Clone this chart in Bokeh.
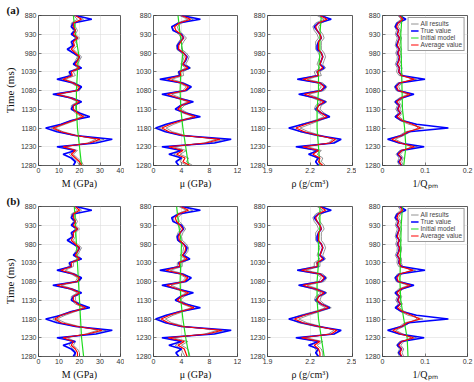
from bokeh.plotting import figure
from bokeh.layouts import column, row
from bokeh.models import Range1d, FixedTicker, Legend, LegendItem
from bokeh.embed import file_html
from bokeh.resources import INLINE

time_ms = [880, 890, 900, 910, 920, 930, 940, 950, 960, 970,
           980, 990, 1000, 1010, 1020, 1030, 1040, 1050, 1060, 1070,
           1080, 1090, 1100, 1110, 1120, 1130, 1140, 1150, 1160, 1170,
           1180, 1190, 1200, 1210, 1220, 1230, 1240, 1250, 1260, 1270,
           1280]
init_time_ms = [880, 930, 980, 1030, 1080, 1130, 1180, 1230, 1280]
y_ticks = [880, 930, 980, 1030, 1080, 1130, 1180, 1230, 1280]

# ---- M (GPa)
true_M = [18, 26, 17, 16, 18, 16, 19, 16, 17, 14,
          17, 20, 19, 17, 21, 15, 16, 9, 17, 21,
          19, 7, 16, 21, 17, 16, 20, 25, 16, 11,
          3.5, 9, 18, 36, 28, 9, 18, 12, 16, 18,
          17]
avg_M_a = [18, 21, 17, 17, 18, 17, 19, 17, 17.5, 16,
           18, 20, 19, 18, 20, 16, 16.5, 12, 17, 20,
           19, 9, 16, 20, 17, 17, 19, 22, 17, 12,
           7, 11, 18, 30, 25, 12, 18, 16, 18, 20,
           21]
gray_M_a1 = [19, 22, 18, 18, 19, 18, 20, 18, 19, 17,
             19, 21, 20, 19, 21, 17, 18, 13, 18, 21,
             20, 10, 17, 21, 18, 18, 20, 23, 18, 13,
             8, 12, 19, 28, 24, 13, 19, 17, 19, 21,
             22]
gray_M_a2 = [17, 19, 16, 16, 17, 16, 18, 16, 16, 15,
             17, 19, 18, 17, 19, 15, 15, 11, 16, 19,
             18, 8, 15, 19, 16, 16, 18, 21, 16, 11,
             6, 10, 17, 32, 26, 11, 17, 15, 17, 19,
             20]
avg_M_b = [18, 20, 17, 17, 18, 17, 19, 17, 17, 16,
           18, 20, 19, 18, 20, 16, 16, 11, 17, 20,
           19, 9, 16, 20, 17, 17, 19, 23, 17, 11,
           8, 11, 19, 31, 24, 12, 17, 16, 18, 19,
           19]
gray_M_b1 = [19, 21, 18, 18, 19, 18, 20, 18, 18, 17,
             19, 21, 20, 19, 21, 17, 17, 13, 18, 21,
             20, 11, 17, 21, 18, 18, 20, 24, 18, 13,
             9, 13, 20, 29, 23, 14, 18, 17, 19, 20,
             20]
gray_M_b2 = [17, 19, 16, 16, 17, 16, 18, 16, 16, 15,
             17, 19, 18, 17, 19, 15, 15, 10, 16, 19,
             18, 8, 15, 19, 16, 16, 18, 22, 16, 10,
             7, 10, 18, 33, 25, 11, 16, 15, 17, 18,
             18]
init_M_a = [17, 18, 19.5, 19, 18.5, 18.5, 19, 20, 21]
init_M_b = [17.5, 18, 18.5, 19, 19.5, 20, 20.5, 21, 22]

# ---- mu (GPa)
true_mu = [4.0, 6.7, 3.6, 2.6, 2.8, 4.0, 4.3, 3.8, 3.4, 3.5,
           4.3, 4.8, 4.6, 4.2, 5.2, 3.6, 3.8, 0.9, 4.1, 5.4,
           4.6, 1.2, 3.4, 5.7, 3.9, 3.1, 4.6, 6.7, 3.8, 1.8,
           0.3, 1.7, 4.0, 11.1, 8.7, 1.2, 4.0, 2.2, 4.0, 3.2,
           3.6]
avg_mu_a = [4.0, 5.3, 3.7, 3.0, 3.2, 3.9, 4.3, 3.9, 3.6, 3.6,
            4.3, 4.7, 4.5, 4.2, 4.9, 3.8, 3.9, 2.0, 4.0, 5.0,
            4.5, 2.0, 3.5, 5.2, 4.0, 3.5, 4.5, 6.0, 4.0, 2.4,
            1.2, 2.2, 4.2, 9.5, 7.5, 2.2, 4.2, 3.3, 4.5, 4.2,
            5.2]
gray_mu_a1 = [4.3, 5.7, 4.0, 3.4, 3.6, 4.2, 4.7, 4.3, 4.0, 4.0,
              4.7, 5.1, 4.9, 4.6, 5.3, 4.2, 4.3, 2.6, 4.4, 5.4,
              4.9, 2.6, 3.9, 5.6, 4.4, 3.9, 4.9, 6.4, 4.4, 2.9,
              1.8, 2.7, 4.6, 9.0, 7.2, 2.8, 4.7, 3.8, 5.0, 4.7,
              5.6]
gray_mu_a2 = [3.7, 4.9, 3.4, 2.7, 2.9, 3.6, 4.0, 3.6, 3.3, 3.3,
              4.0, 4.4, 4.2, 3.9, 4.6, 3.5, 3.6, 1.5, 3.7, 4.7,
              4.2, 1.5, 3.2, 4.9, 3.7, 3.2, 4.2, 5.7, 3.7, 2.0,
              0.8, 1.8, 3.9, 10.2, 8.0, 1.7, 3.8, 2.9, 4.1, 3.8,
              4.8]
avg_mu_b = [3.9, 5.0, 3.6, 3.1, 3.3, 3.8, 4.2, 3.8, 3.6, 3.7,
            4.3, 4.6, 4.5, 4.1, 4.8, 3.7, 3.7, 1.8, 4.0, 4.9,
            4.4, 1.9, 3.4, 5.0, 4.0, 3.4, 4.4, 5.8, 3.9, 2.3,
            1.1, 2.1, 4.1, 9.8, 7.7, 2.1, 4.4, 3.5, 4.4, 4.6,
            4.8]
gray_mu_b1 = [4.3, 5.6, 4.0, 3.5, 3.7, 4.2, 4.6, 4.2, 4.0, 4.1,
              4.7, 5.0, 4.9, 4.5, 5.2, 4.1, 4.1, 2.4, 4.4, 5.3,
              4.8, 2.5, 3.8, 5.4, 4.4, 3.8, 4.8, 6.3, 4.3, 2.8,
              1.7, 2.6, 4.5, 9.2, 7.3, 2.7, 4.9, 4.0, 4.9, 5.1,
              5.2]
gray_mu_b2 = [3.6, 4.7, 3.3, 2.8, 3.0, 3.5, 3.9, 3.5, 3.3, 3.4,
              4.0, 4.3, 4.2, 3.8, 4.5, 3.4, 3.4, 1.4, 3.7, 4.6,
              4.1, 1.4, 3.1, 4.7, 3.7, 3.1, 4.1, 5.5, 3.6, 1.9,
              0.7, 1.7, 3.8, 10.4, 8.1, 1.6, 4.0, 3.1, 4.0, 4.2,
              4.5]
init_mu_a = [3.5, 3.8, 4.2, 3.9, 3.8, 3.9, 4.2, 4.6, 5.0]
init_mu_b = [3.3, 3.6, 4.0, 3.9, 3.8, 3.9, 4.2, 4.6, 5.1]

# ---- rho (g/cm3)
true_rho = [2.27, 2.35, 2.26, 2.23, 2.25, 2.27, 2.28, 2.26, 2.25, 2.25,
            2.28, 2.29, 2.28, 2.27, 2.30, 2.25, 2.26, 2.11, 2.27, 2.31,
            2.28, 2.12, 2.24, 2.31, 2.26, 2.24, 2.28, 2.34, 2.25, 2.15,
            2.05, 2.14, 2.26, 2.42, 2.37, 2.10, 2.26, 2.19, 2.26, 2.24,
            2.26]
avg_rho_a = [2.27, 2.32, 2.26, 2.24, 2.25, 2.27, 2.28, 2.26, 2.26, 2.26,
             2.28, 2.29, 2.28, 2.27, 2.29, 2.25, 2.26, 2.15, 2.27, 2.30,
             2.28, 2.16, 2.24, 2.30, 2.26, 2.25, 2.28, 2.32, 2.25, 2.17,
             2.10, 2.16, 2.26, 2.38, 2.34, 2.15, 2.26, 2.22, 2.27, 2.26,
             2.29]
gray_rho_a1 = [2.29, 2.34, 2.28, 2.26, 2.27, 2.29, 2.30, 2.28, 2.28, 2.28,
               2.30, 2.31, 2.30, 2.29, 2.31, 2.27, 2.28, 2.18, 2.29, 2.32,
               2.30, 2.19, 2.26, 2.32, 2.28, 2.27, 2.30, 2.34, 2.27, 2.20,
               2.13, 2.19, 2.28, 2.36, 2.33, 2.18, 2.28, 2.25, 2.29, 2.28,
               2.31]
gray_rho_a2 = [2.25, 2.30, 2.24, 2.22, 2.23, 2.25, 2.26, 2.24, 2.24, 2.24,
               2.26, 2.27, 2.26, 2.25, 2.27, 2.23, 2.24, 2.12, 2.25, 2.28,
               2.26, 2.13, 2.22, 2.28, 2.24, 2.23, 2.26, 2.30, 2.23, 2.14,
               2.07, 2.13, 2.24, 2.40, 2.36, 2.12, 2.24, 2.20, 2.25, 2.24,
               2.27]
avg_rho_b = [2.27, 2.31, 2.26, 2.24, 2.25, 2.27, 2.28, 2.26, 2.26, 2.26,
             2.28, 2.29, 2.28, 2.27, 2.29, 2.25, 2.25, 2.14, 2.27, 2.30,
             2.28, 2.15, 2.24, 2.30, 2.26, 2.25, 2.28, 2.33, 2.25, 2.16,
             2.09, 2.15, 2.26, 2.39, 2.35, 2.14, 2.27, 2.23, 2.26, 2.27,
             2.27]
gray_rho_b1 = [2.29, 2.33, 2.28, 2.26, 2.27, 2.29, 2.30, 2.28, 2.28, 2.28,
               2.30, 2.31, 2.30, 2.29, 2.31, 2.27, 2.27, 2.17, 2.29, 2.32,
               2.30, 2.18, 2.26, 2.32, 2.28, 2.27, 2.30, 2.35, 2.27, 2.19,
               2.12, 2.18, 2.28, 2.37, 2.33, 2.17, 2.29, 2.25, 2.28, 2.29,
               2.29]
gray_rho_b2 = [2.25, 2.29, 2.24, 2.22, 2.23, 2.25, 2.26, 2.24, 2.24, 2.24,
               2.26, 2.27, 2.26, 2.25, 2.27, 2.23, 2.23, 2.11, 2.25, 2.28,
               2.26, 2.12, 2.22, 2.28, 2.24, 2.23, 2.26, 2.31, 2.23, 2.13,
               2.06, 2.12, 2.24, 2.41, 2.37, 2.11, 2.25, 2.21, 2.24, 2.25,
               2.25]
init_rho_a = [2.28, 2.27, 2.27, 2.26, 2.26, 2.25, 2.25, 2.26, 2.27]
init_rho_b = [2.27, 2.27, 2.26, 2.26, 2.25, 2.25, 2.26, 2.28, 2.30]

# ---- 1/Q_Pm
true_q = [0.040, 0.055, 0.035, 0.030, 0.038, 0.034, 0.040, 0.036, 0.033, 0.040,
          0.035, 0.040, 0.038, 0.034, 0.040, 0.038, 0.045, 0.100, 0.040, 0.030,
          0.036, 0.074, 0.045, 0.030, 0.040, 0.035, 0.042, 0.030, 0.045, 0.080,
          0.155, 0.062, 0.045, 0.012, 0.040, 0.098, 0.045, 0.035, 0.045, 0.038,
          0.045]
avg_q_a = [0.040, 0.048, 0.037, 0.033, 0.038, 0.035, 0.040, 0.037, 0.035, 0.040,
           0.036, 0.040, 0.039, 0.035, 0.040, 0.038, 0.044, 0.075, 0.040, 0.033,
           0.037, 0.065, 0.044, 0.033, 0.040, 0.036, 0.042, 0.034, 0.046, 0.070,
           0.090, 0.060, 0.045, 0.022, 0.042, 0.075, 0.045, 0.037, 0.044, 0.040,
           0.044]
gray_q_a1 = [0.045, 0.052, 0.042, 0.037, 0.043, 0.040, 0.045, 0.042, 0.040, 0.045,
             0.041, 0.045, 0.044, 0.040, 0.046, 0.043, 0.049, 0.070, 0.045, 0.038,
             0.042, 0.070, 0.049, 0.038, 0.045, 0.041, 0.047, 0.039, 0.051, 0.078,
             0.083, 0.066, 0.050, 0.030, 0.047, 0.068, 0.050, 0.042, 0.049, 0.045,
             0.049]
gray_q_a2 = [0.036, 0.044, 0.032, 0.029, 0.033, 0.030, 0.035, 0.032, 0.030, 0.035,
             0.031, 0.035, 0.034, 0.030, 0.035, 0.033, 0.039, 0.080, 0.035, 0.028,
             0.032, 0.060, 0.039, 0.028, 0.035, 0.031, 0.037, 0.029, 0.041, 0.062,
             0.097, 0.054, 0.040, 0.015, 0.037, 0.082, 0.040, 0.032, 0.039, 0.035,
             0.040]
avg_q_b = [0.041, 0.047, 0.037, 0.034, 0.038, 0.035, 0.040, 0.037, 0.035, 0.039,
           0.036, 0.040, 0.039, 0.035, 0.040, 0.039, 0.043, 0.072, 0.040, 0.034,
           0.037, 0.066, 0.043, 0.034, 0.040, 0.036, 0.042, 0.035, 0.047, 0.068,
           0.088, 0.058, 0.045, 0.024, 0.043, 0.073, 0.045, 0.038, 0.045, 0.041,
           0.045]
gray_q_b1 = [0.046, 0.052, 0.042, 0.038, 0.043, 0.040, 0.045, 0.042, 0.040, 0.044,
             0.041, 0.045, 0.044, 0.040, 0.045, 0.044, 0.048, 0.068, 0.045, 0.039,
             0.042, 0.071, 0.048, 0.039, 0.045, 0.041, 0.047, 0.040, 0.052, 0.076,
             0.081, 0.064, 0.050, 0.031, 0.048, 0.067, 0.050, 0.043, 0.050, 0.046,
             0.050]
gray_q_b2 = [0.036, 0.043, 0.032, 0.029, 0.033, 0.030, 0.035, 0.032, 0.030, 0.034,
             0.031, 0.035, 0.034, 0.030, 0.035, 0.034, 0.038, 0.078, 0.035, 0.029,
             0.032, 0.061, 0.038, 0.029, 0.035, 0.031, 0.037, 0.030, 0.042, 0.060,
             0.095, 0.052, 0.040, 0.016, 0.038, 0.080, 0.040, 0.033, 0.040, 0.036,
             0.040]
init_q_a = [0.046, 0.043, 0.044, 0.045, 0.046, 0.047, 0.052, 0.055, 0.050]
init_q_b = [0.047, 0.044, 0.043, 0.042, 0.041, 0.043, 0.050, 0.058, 0.060]

x_ranges = [(0, 40), (0, 12), (1.9, 2.5), (0, 0.2)]
x_ticks = [[0, 10, 20, 30, 40], [0, 4, 8, 12], [1.9, 2.2, 2.5], [0, 0.1, 0.2]]
x_labels = ["M (GPa)", "μ (GPa)", "ρ (g/cm³)", "1/Qₚₘ"]
legend_labels = ["All results", "True value", "Initial model", "Average value"]

rows_data = {
    "a": [(true_M, avg_M_a, [gray_M_a1, gray_M_a2], init_M_a),
          (true_mu, avg_mu_a, [gray_mu_a1, gray_mu_a2], init_mu_a),
          (true_rho, avg_rho_a, [gray_rho_a1, gray_rho_a2], init_rho_a),
          (true_q, avg_q_a, [gray_q_a1, gray_q_a2], init_q_a)],
    "b": [(true_M, avg_M_b, [gray_M_b1, gray_M_b2], init_M_b),
          (true_mu, avg_mu_b, [gray_mu_b1, gray_mu_b2], init_mu_b),
          (true_rho, avg_rho_b, [gray_rho_b1, gray_rho_b2], init_rho_b),
          (true_q, avg_q_b, [gray_q_b1, gray_q_b2], init_q_b)],
}

frame_w = [82, 84, 85, 85]
border_l = [34, 29, 26, 26]
border_r = [4, 4, 4, 10]
GRAY = "#767676"
BLUE = "#0000ff"
GREEN = "#1fdc1f"
RED = "#ff0000"
INK = "#333333"


def panel(k, tag, frame_h, top, bottom):
    true_v, avg_v, grays, init_v = rows_data[tag][k]
    p = figure(frame_width=frame_w[k], frame_height=frame_h,
               x_range=Range1d(*x_ranges[k]), y_range=Range1d(1280, 880),
               output_backend="svg", toolbar_location=None,
               min_border_left=border_l[k], min_border_right=border_r[k],
               min_border_top=top, min_border_bottom=bottom,
               background_fill_color="white", border_fill_color="white")
    p.xaxis.ticker = FixedTicker(ticks=x_ticks[k])
    p.yaxis.ticker = FixedTicker(ticks=y_ticks)
    if k == 3:
        p.xaxis.major_label_overrides = {0: "0"}
    for ax in p.axis:
        ax.axis_line_color = None
        ax.major_tick_in = 3
        ax.major_tick_out = 0
        ax.major_tick_line_color = INK
        ax.major_tick_line_width = 0.6
        ax.minor_tick_line_color = None
        ax.major_label_text_font = "Liberation Sans"
        ax.major_label_text_font_size = "7px"
        ax.major_label_text_color = INK
        ax.major_label_standoff = 2
        ax.axis_label_text_font = "Liberation Serif"
        ax.axis_label_text_font_size = "10px"
        ax.axis_label_text_font_style = "normal"
        ax.axis_label_text_color = "#111111"
        ax.axis_label_standoff = 2
    p.xaxis.axis_label = x_labels[k]
    if k == 0:
        p.yaxis.axis_label = "Time (ms)"
        p.yaxis.axis_label_text_font_size = "11px"
        p.title.text = "(%s)" % tag
        p.title.align = "left"
        p.title.offset = -32
        p.title.standoff = 0
        p.title.text_font = "Liberation Serif"
        p.title.text_font_style = "bold"
        p.title.text_font_size = "11px"
        p.title.text_color = "#111111"
    p.grid.grid_line_color = "#dedede"
    p.grid.grid_line_width = 0.6
    p.outline_line_color = INK
    p.outline_line_width = 0.8

    g_rs = [p.line(x=g, y=time_ms, line_color=GRAY, line_width=0.8) for g in grays]
    b_r = p.line(x=true_v, y=time_ms, line_color=BLUE, line_width=1.7)
    gr_r = p.line(x=init_v, y=init_time_ms, line_color=GREEN, line_width=1.2)
    r_r = p.line(x=avg_v, y=time_ms, line_color=RED, line_width=1.2)

    if k == 3:
        items = [LegendItem(label=legend_labels[0], renderers=[g_rs[0]]),
                 LegendItem(label=legend_labels[1], renderers=[b_r]),
                 LegendItem(label=legend_labels[2], renderers=[gr_r]),
                 LegendItem(label=legend_labels[3], renderers=[r_r])]
        leg = Legend(items=items, location="top_right", label_text_font="Liberation Sans",
                     label_text_font_size="6.5px", label_height=7, glyph_height=7,
                     glyph_width=8, spacing=0, padding=2, margin=2, label_standoff=2,
                     border_line_color=INK, border_line_width=0.6,
                     background_fill_color="white", background_fill_alpha=1.0)
        p.add_layout(leg)
    return p


row_a = row(*[panel(k, "a", 150, 15, 24) for k in range(4)])
row_b = row(*[panel(k, "b", 150, 15, 24) for k in range(4)])
layout = column(row_a, row_b)

open("out.html", "w").write(file_html(layout, INLINE))
